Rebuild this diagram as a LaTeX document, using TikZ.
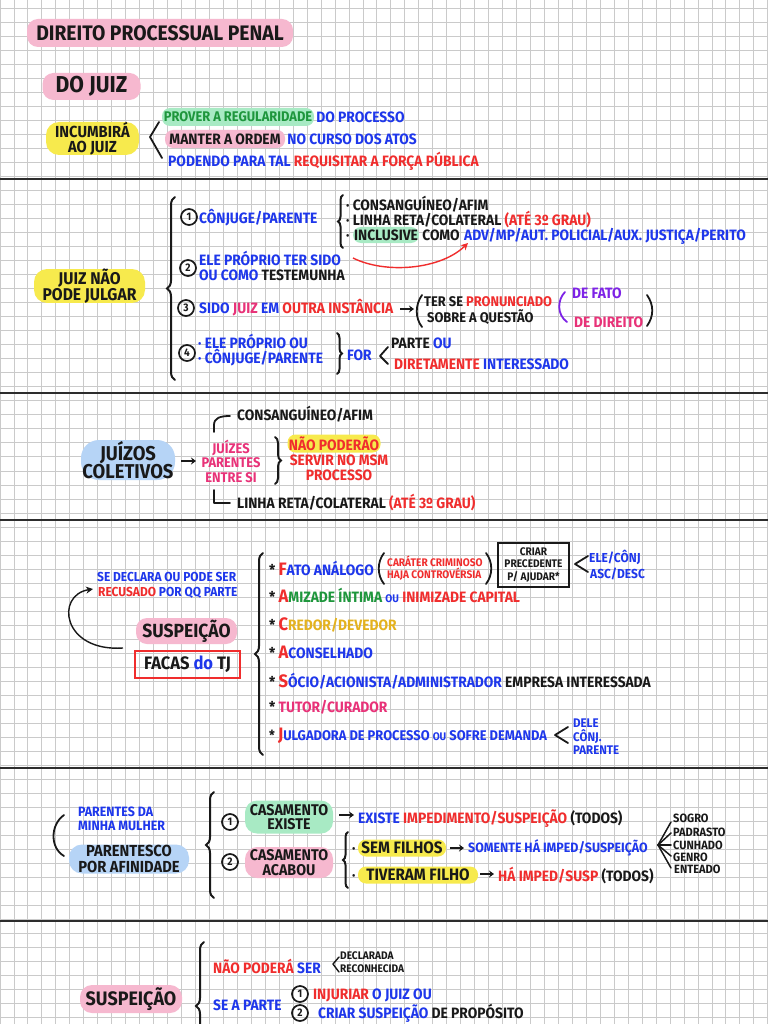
\documentclass[tikz,border=0pt]{standalone}
\usepackage{fontspec}
\setmainfont{Fira Sans}[FakeStretch=0.92]
\usetikzlibrary{decorations.pathreplacing,arrows.meta}
\definecolor{gridc}{RGB}{202,202,202}
\definecolor{sepc}{RGB}{45,45,45}
\definecolor{ink}{RGB}{25,25,25}
\definecolor{cb}{RGB}{30,55,235}
\definecolor{cr}{RGB}{240,45,45}
\definecolor{cp}{RGB}{232,50,120}
\definecolor{cg}{RGB}{30,150,60}
\definecolor{cy}{RGB}{228,178,30}
\definecolor{cv}{RGB}{125,35,230}
\definecolor{hp}{RGB}{246,184,207}
\definecolor{hy}{RGB}{247,234,77}
\definecolor{hg}{RGB}{168,234,196}
\definecolor{hb}{RGB}{182,212,246}
\newcommand{\inkB}[1]{\textcolor{cb}{#1}}
\newcommand{\inkR}[1]{\textcolor{cr}{#1}}
\newcommand{\inkP}[1]{\textcolor{cp}{#1}}
\newcommand{\inkG}[1]{\textcolor{cg}{#1}}
\newcommand{\inkY}[1]{\textcolor{cy}{#1}}
\newcommand{\inkV}[1]{\textcolor{cv}{#1}}
\newcommand{\bigL}[1]{{\fontsize{18}{18}\selectfont #1}}
\newcommand{\fs}[1]{\fontsize{#1}{#1}\selectfont\bfseries}
\begin{document}
\begin{tikzpicture}[x=1pt,y=-1pt,
  tx/.style={anchor=west, inner sep=0pt, text height=10.4pt, text depth=0pt, text=ink, font=\fs{15}},
  ts/.style={anchor=west, inner sep=0pt, text height=8.6pt, text depth=0pt, text=ink, font=\fs{12.5}},
  tt/.style={anchor=west, inner sep=0pt, text height=7.6pt, text depth=0pt, text=ink, font=\fs{11}},
  tl/.style={anchor=center, inner sep=0pt, align=center, text=ink, font=\fontsize{15}{15.5}\selectfont\bfseries},
  hl/.style={fill=#1, rounded corners=8pt, inner sep=0pt, text=ink, align=center, font=\fontsize{15}{15.5}\selectfont\bfseries},
  num/.style={circle, draw=ink, line width=1.7pt, inner sep=0pt, minimum size=16pt, text=ink, font=\fs{11}},
  brc/.style={decorate, decoration={brace, amplitude=#1}, line width=2pt, draw=ink, line cap=round},
  brk/.style={line width=1.8pt, draw=ink, line cap=round, line join=round},
  sarr/.style={-{Stealth[length=5pt,width=7pt]}, line width=1.8pt, draw=ink},
  carr/.style={-{Stealth[length=7pt,width=7pt]}, line width=1.4pt},
]
\useasboundingbox (0,0) rectangle (768,1024);
\fill[white] (0,0) rectangle (768,1024);
\foreach \i in {0,...,55} {\draw[gridc, line width=0.9pt] (\i*13.96,0) -- (\i*13.96,1024);}
\foreach \j in {0,...,73} {\draw[gridc, line width=0.9pt] (0,8.3+\j*14.02) -- (768,8.3+\j*14.02);}
\foreach \y in {179,393,520,768,921} {\draw[sepc, line width=2.6pt] (0,\y) -- (768,\y);}

% ---------- section 1
\node[hl=hp, minimum width=266pt, minimum height=28pt, rounded corners=11pt, font=\fs{21}] (title) at (160,33) {DIREITO PROCESSUAL PENAL};
\node[hl=hp, minimum width=98pt, minimum height=27pt, rounded corners=11pt, font=\fs{23}] (dojuiz) at (91.5,86.5) {DO JUIZ};
\node[hl=hy, minimum width=93pt, minimum height=32pt, rounded corners=13pt, font=\fontsize{16}{15}\selectfont\bfseries] (incumb) at (92.5,138.5) {INCUMBIRÁ\\AO JUIZ};
\draw[brk] (159,122) -- (150,137) -- (162,158);
\node[hl=hg, minimum width=152pt, minimum height=18pt, font=\fs{14}] (l1a) at (238,117) {\inkG{PROVER A REGULARIDADE}};
\node[tx] (l1b) at ([xshift=2pt]l1a.east) {\inkB{DO PROCESSO}};
\node[hl=hp, minimum width=120pt, minimum height=18pt] (l2a) at (225,139) {MANTER A ORDEM};
\node[tx] (l2b) at ([xshift=2pt]l2a.east) {\inkB{NO CURSO DOS ATOS}};
\node[tx] (l3) at (168,161) {\inkB{PODENDO PARA TAL} \inkR{REQUISITAR A FORÇA PÚBLICA}};

% ---------- section 2
\node[hl=hy, minimum width=111pt, minimum height=33pt, rounded corners=13pt, font=\fontsize{17}{15.5}\selectfont\bfseries] (jnpj) at (89.5,286) {JUIZ NÃO\\PODE JULGAR};
\draw[brc=8pt] (175,380) -- (175,197);
\node[num] (n1) at (189,217) {1};
\node[tx] (c1) at (199,218) {\inkB{CÔNJUGE/PARENTE}};
\draw[brc=5pt] (343,248) -- (343,195);
\node[tx] (c1a) at (346,205) {· CONSANGUÍNEO/AFIM};
\node[tx] (c1b) at (346,220) {· LINHA RETA/COLATERAL \inkR{(ATÉ 3º GRAU)}};
\node[tx] (c1dot) at (346,235) {·};
\node[hl=hg, minimum width=66pt, minimum height=16pt] (incl) at (386,235) {INCLUSIVE};
\node[tx] (como) at ([xshift=3pt]incl.east) {COMO};
\node[tx] (adv) at ([xshift=4pt]como.east) {\inkB{ADV/MP/AUT. POLICIAL/AUX. JUSTIÇA/PERITO}};
\node[num] (n2) at (188,268) {2};
\node[tx] (c2a) at (199,260) {\inkB{ELE PRÓPRIO TER SIDO}};
\node[tx] (c2b) at (199,275) {\inkB{OU COMO} TESTEMUNHA};
\coordinate (raS) at (353,258);
\coordinate (raE) at (468,243);
\draw[carr, cr] (raS) .. controls (385,274) and (440,270) .. (raE);
\node[num] (n3) at (186,308) {3};
\node[tx] (c3) at (199,308) {\inkB{SIDO} \inkP{JUIZ} \inkB{EM} \inkR{OUTRA INSTÂNCIA}};
\draw[sarr] (400,309) -- (414,309);
\draw[brk] (422,295) .. controls (415,305) and (415,318) .. (422,327);
\node[tx, font=\fs{14}] (c3a) at (424,301) {TER SE \inkR{PRONUNCIADO}};
\node[tx, font=\fs{14}] (c3b) at (427,317) {SOBRE A QUESTÃO};
\draw[brk, draw=cv] (565,292) .. controls (557,300) and (557,315) .. (567,322);
\node[tx] (fato) at (572,293) {\inkV{DE FATO}};
\node[tx] (dir) at (574,322) {\inkP{DE DIREITO}};
\draw[brk] (647,295) .. controls (654,305) and (654,316) .. (647,326);
\node[num] (n4) at (187,353) {4};
\node[tx] (c4a) at (198,343) {\inkB{· ELE PRÓPRIO OU}};
\node[tx] (c4b) at (198,358) {\inkB{· CÔNJUGE/PARENTE}};
\draw[brc=5pt] (337,333) -- (337,374);
\node[tx] (for) at (347,355) {\inkB{FOR}};
\draw[brk] (388,347) -- (380,356) -- (388,364);
\node[tx] (c4c) at (391,343) {PARTE \inkB{OU}};
\node[tx] (c4d) at (394,364) {\inkR{DIRETAMENTE} \inkB{INTERESSADO}};

% ---------- section 3
\node[hl=hb, minimum width=94pt, minimum height=40pt, rounded corners=18pt, font=\fontsize{20}{17}\selectfont\bfseries] (jc) at (128,460) {JUÍZOS\\COLETIVOS};
\draw[sarr] (181,461) -- (196,461);
\node[tl, font=\fontsize{14}{14.5}\selectfont\bfseries, text=cp] (jp) at (231,461) {JUÍZES\\PARENTES\\ENTRE SI};
\draw[brk] (214,432) -- (214,425) .. controls (214,418) and (220,416) .. (230,416);
\node[tx] (cons) at (237,415) {CONSANGUÍNEO/AFIM};
\draw[brk] (214,490) -- (214,503) -- (230,503);
\node[tx] (linha) at (237,503) {LINHA RETA/COLATERAL \inkR{(ATÉ 3º GRAU)}};
\draw[brc=6pt] (275,437) -- (275,484);
\node[hl=hy, minimum width=93pt, minimum height=18pt] (np) at (334,443.5) {\inkR{NÃO PODERÃO}};
\node[tl, text=cr] (serv) at (339,468) {SERVIR NO MSM\\PROCESSO};

% ---------- section 4
\node[ts, font=\fs{13}] (sd1) at (97,577) {\inkB{SE DECLARA OU PODE SER}};
\node[ts, font=\fs{13}] (sd2) at (98,592) {\inkR{RECUSADO} \inkB{POR QQ PARTE}};
\node[hl=hp, minimum width=101pt, minimum height=26pt, rounded corners=11pt, font=\fs{19}] (susp) at (186.5,631) {SUSPEIÇÃO};
\node[draw=cr, line width=1.8pt, minimum width=105pt, minimum height=27pt, inner sep=0pt, text=ink, font=\fs{18}] (facas) at (187.5,664.5) {FACAS \inkB{do} TJ};
\coordinate (saS) at (123,648);
\coordinate (saE) at (93,589);
\draw[carr, draw=ink] (saS) .. controls (62,652) and (55,595) .. (saE);
\draw[brc=8pt] (263,755) -- (263,553);
\node[tx] (f1) at (269,570) {* \bigL{\inkR{F}}\inkB{ATO ANÁLOGO}};
\draw[brk] (384,553) .. controls (377,562) and (377,575) .. (384,584);
\node[tt] (f1a) at (387,563) {\inkR{CARÁTER CRIMINOSO}};
\node[tt] (f1b) at (387,575) {\inkR{HAJA CONTROVÉRSIA}};
\draw[brk] (486,553) .. controls (493,562) and (493,575) .. (486,584);
\node[draw=ink, line width=1.5pt, minimum width=71pt, minimum height=44pt, align=center, inner sep=0pt, text=ink, font=\fontsize{11}{12.5}\selectfont\bfseries] (crp) at (533.5,565) {CRIAR\\PRECEDENTE\\P/ AJUDAR*};
\draw[brk] (588,556) -- (575,564) -- (588,572);
\node[ts, font=\fs{13}] (f1c) at (589,558) {\inkB{ELE/CÔNJ}};
\node[ts, font=\fs{13}] (f1d) at (590,574) {\inkB{ASC/DESC}};
\node[tx] (f2) at (269,597) {* \bigL{\inkR{A}}\inkG{MIZADE ÍNTIMA} \inkB{\fontsize{11}{11}\selectfont OU} \inkR{INIMIZADE CAPITAL}};
\node[tx] (f3) at (269,625) {* \bigL{\inkR{C}}\inkY{REDOR/DEVEDOR}};
\node[tx] (f4) at (269,653) {* \bigL{\inkR{A}}\inkB{CONSELHADO}};
\node[tx] (f5) at (269,682) {* \bigL{\inkR{S}}\inkB{ÓCIO/ACIONISTA/ADMINISTRADOR} EMPRESA INTERESSADA};
\node[tx] (f6) at (269,707) {* \inkP{TUTOR/CURADOR}};
\node[tx, font=\fs{14}] (f7) at (269,735) {* \bigL{\inkR{J}}\inkB{ULGADORA DE PROCESSO {\fontsize{11}{11}\selectfont OU} SOFRE DEMANDA}};
\draw[brk] (568,727) -- (555,735) -- (568,743);
\node[ts] (f7a) at (573,723) {\inkB{DELE}};
\node[ts] (f7b) at (573,737) {\inkB{CÔNJ.}};
\node[ts] (f7c) at (573,750) {\inkB{PARENTE}};

% ---------- section 5
\node[ts, font=\fs{13.5}] (pm1) at (78,812) {\inkB{PARENTES DA}};
\node[ts, font=\fs{13.5}] (pm2) at (78,826) {\inkB{MINHA MULHER}};
\draw[brk] (64,815) .. controls (50,825) and (50,848) .. (64,856);
\node[hl=hb, minimum width=120pt, minimum height=29pt, rounded corners=13pt, font=\fontsize{16}{16}\selectfont\bfseries] (paf) at (129,859) {PARENTESCO\\POR AFINIDADE};
\draw[brc=8pt] (214,898) -- (214,792);
\node[num] (m1) at (230,822) {1};
\node[hl=hg, minimum width=88pt, minimum height=33pt, rounded corners=12pt, font=\fontsize{15.5}{14.5}\selectfont\bfseries] (ce) at (289,817) {CASAMENTO\\EXISTE};
\draw[sarr] (339,815) -- (354,815);
\node[tx] (ce2) at (358,818) {\inkB{EXISTE} \inkR{IMPEDIMENTO/SUSPEIÇÃO} (TODOS)};
\node[num] (m2) at (230,862) {2};
\node[hl=hp, minimum width=88pt, minimum height=31pt, rounded corners=12pt, font=\fontsize{15.5}{14.5}\selectfont\bfseries] (ca) at (289,862.5) {CASAMENTO\\ACABOU};
\draw[brc=5pt] (348,888) -- (348,832);
\node[tx] (dotA) at (352,848) {·};
\node[hl=hy, minimum width=88pt, minimum height=17pt, font=\fs{16.5}] (sf) at (402,848) {SEM FILHOS};
\draw[sarr] (450,848) -- (464,848);
\node[tx, font=\fs{13.5}] (sf2) at (468,847) {\inkB{SOMENTE HÁ IMPED/SUSPEIÇÃO}};
\node[tx] (dotB) at (352,875) {·};
\node[hl=hy, minimum width=120pt, minimum height=17pt, font=\fs{16.5}] (tf) at (418,875) {TIVERAM FILHO};
\draw[sarr] (480,874) -- (494,874);
\node[tx] (tf2) at (498,876) {\inkR{HÁ IMPED/SUSP} (TODOS)};
\coordinate (fv) at (658,845);
\foreach \yy in {822,833,845,856,868} {\draw[brk, line width=1.5pt] (fv) -- (671,\yy);}
\node[ts, font=\fs{12}] (s1) at (673,818) {SOGRO};
\node[ts, font=\fs{12}] (s2) at (673,832) {PADRASTO};
\node[ts, font=\fs{12}] (s3) at (673,845) {CUNHADO};
\node[ts, font=\fs{12}] (s4) at (673,857) {GENRO};
\node[ts, font=\fs{12}] (s5) at (674,869) {ENTEADO};

% ---------- section 6
\draw[brc=8pt] (204,1070) -- (204,942);
\node[tx] (np2) at (213,968) {\inkR{NÃO PODERÁ} \inkB{SER}};
\draw[brk, line width=1.4pt] (339,957) -- (333,964) -- (339,972);
\node[tt] (dec1) at (340,956) {DECLARADA};
\node[tt] (dec2) at (340,969) {RECONHECIDA};
\node[hl=hp, minimum width=102pt, minimum height=28pt, rounded corners=12pt, font=\fs{19.5}] (susp2) at (131,999) {SUSPEIÇÃO};
\node[tx] (sap) at (213,1005) {\inkB{SE A PARTE}};
\node[num] (p1) at (300,994) {1};
\node[tx] (p1t) at (313,994) {\inkR{INJURIAR} \inkB{O JUIZ OU}};
\node[num] (p2) at (300,1013) {2};
\node[tx] (p2t) at (318,1013) {\inkB{CRIAR SUSPEIÇÃO} DE PROPÓSITO};
\end{tikzpicture}
\end{document}
